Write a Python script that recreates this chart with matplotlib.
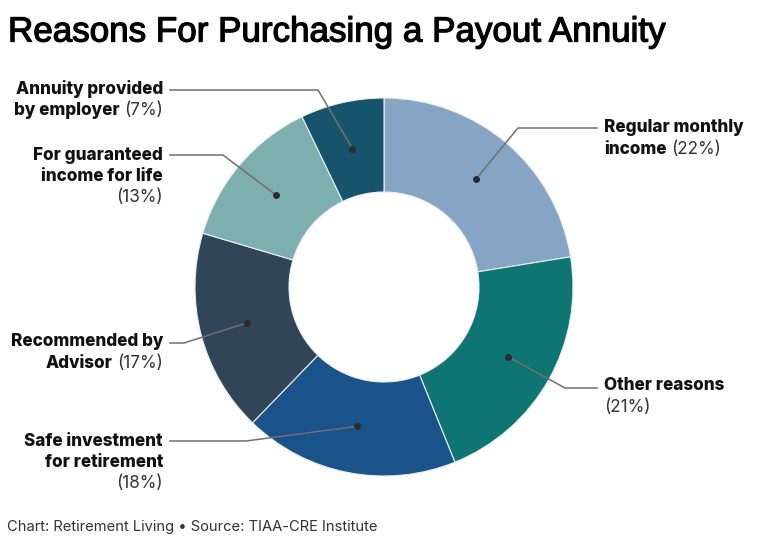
import numpy as np
import matplotlib
matplotlib.use("Agg")
import matplotlib.pyplot as plt
import matplotlib.patheffects as pe

# data
reasons = ["Regular monthly income", "Other reasons", "Safe investment for retirement",
           "Recommended by Advisor", "For guaranteed income for life", "Annuity provided by employer"]
shares = [22, 21, 18, 17, 13, 7]
colors = ["#86a4c3", "#0f7572", "#1a528a", "#314559", "#7eafaf", "#16546c"]

# label text: bold lines, and whether the percent sits on the last bold line
bold_lines = [["Regular monthly", "income"], ["Other reasons"], ["Safe investment", "for retirement"],
              ["Recommended by", "Advisor"], ["For guaranteed", "income for life"],
              ["Annuity provided", "by employer"]]
pct_inline = [True, False, False, True, False, True]

# layout (pixel coords, y from top): label anchor (x, y of first line), elbow point
label_pos = [(604, 128), (604, 386), (163, 441), (163, 342), (163, 155), (163, 89)]
elbow_pos = [(518, 128), (565, 388), (246, 441), (184, 343), (223, 155), (318, 90)]

W, H = 768, 544
cx, cy = 384, 287
R_out, R_in = 189, 95
line_h = 21.5

def Y(y):
    return H - y

fig = plt.figure(figsize=(7.68, 5.44), dpi=100)
ax = fig.add_axes([0, 0, 1, 1])

ax.pie(shares, radius=R_out, center=(cx, Y(cy)), startangle=90, counterclock=False,
       colors=colors, wedgeprops=dict(width=R_out - R_in, edgecolor="#e8eef2", linewidth=0.8))
ax.set_xlim(0, W)
ax.set_ylim(0, H)
ax.set_aspect("equal")
ax.axis("off")

total = sum(shares)
cum = np.cumsum([0] + shares[:-1])
r_dot = (R_out + R_in) / 2

bold_font = dict(family="Inter", fontweight=800, fontsize=12.3, color="#111111")
reg_font = dict(family="Inter", fontweight="normal", fontsize=12.3, color="#333333")

for i in range(len(shares)):
    ang = np.deg2rad(90 - 360 * (cum[i] + shares[i] / 2) / total)
    dx = cx + r_dot * np.cos(ang)
    dy = Y(cy) + r_dot * np.sin(ang)
    lx, ly = label_pos[i]
    ex, ey = elbow_pos[i]
    right = lx > cx
    end_x = lx - 7 if right else lx + 7
    ax.plot([dx, ex, end_x], [dy, Y(ey), Y(ey)], color="#707070", lw=1.1, zorder=3)
    ax.plot(dx, dy, "o", color="#2b2b2b", ms=4, zorder=4)

    pct = "(%d%%)" % shares[i]
    lines = bold_lines[i]
    n = len(lines)
    for j, s in enumerate(lines):
        yy = Y(ly + j * line_h)
        last = j == n - 1
        if right:
            t = ax.text(lx, yy, s, ha="left", va="center", **bold_font)
            if last and pct_inline[i]:
                ax.annotate(pct, xy=(1, 0), xycoords=t, xytext=(3, 0),
                            textcoords="offset points", ha="left", va="bottom", **reg_font)
        else:
            if last and pct_inline[i]:
                p = ax.text(lx, yy, pct, ha="right", va="center", **reg_font)
                ax.annotate(s, xy=(0, 0), xycoords=p, xytext=(-3, 0),
                            textcoords="offset points", ha="right", va="bottom", **bold_font)
            else:
                ax.text(lx, yy, s, ha="right", va="center", **bold_font)
    if not pct_inline[i]:
        ax.text(lx, Y(ly + n * line_h), pct, ha="left" if right else "right", va="center", **reg_font)

fig.text(8 / W, 1 - 32 / H, "Reasons For Purchasing a Payout Annuity", ha="left", va="center",
         family="Liberation Sans", fontsize=25.2, color="#000000",
         path_effects=[pe.withStroke(linewidth=0.9, foreground="#000000")])
fig.text(7 / W, 1 - 527 / H, "Chart: Retirement Living \u2022 Source: TIAA-CRE Institute",
         ha="left", va="center", family="Inter", fontsize=10.6, color="#333333")

fig.savefig("out.png", dpi=100, facecolor="white")
